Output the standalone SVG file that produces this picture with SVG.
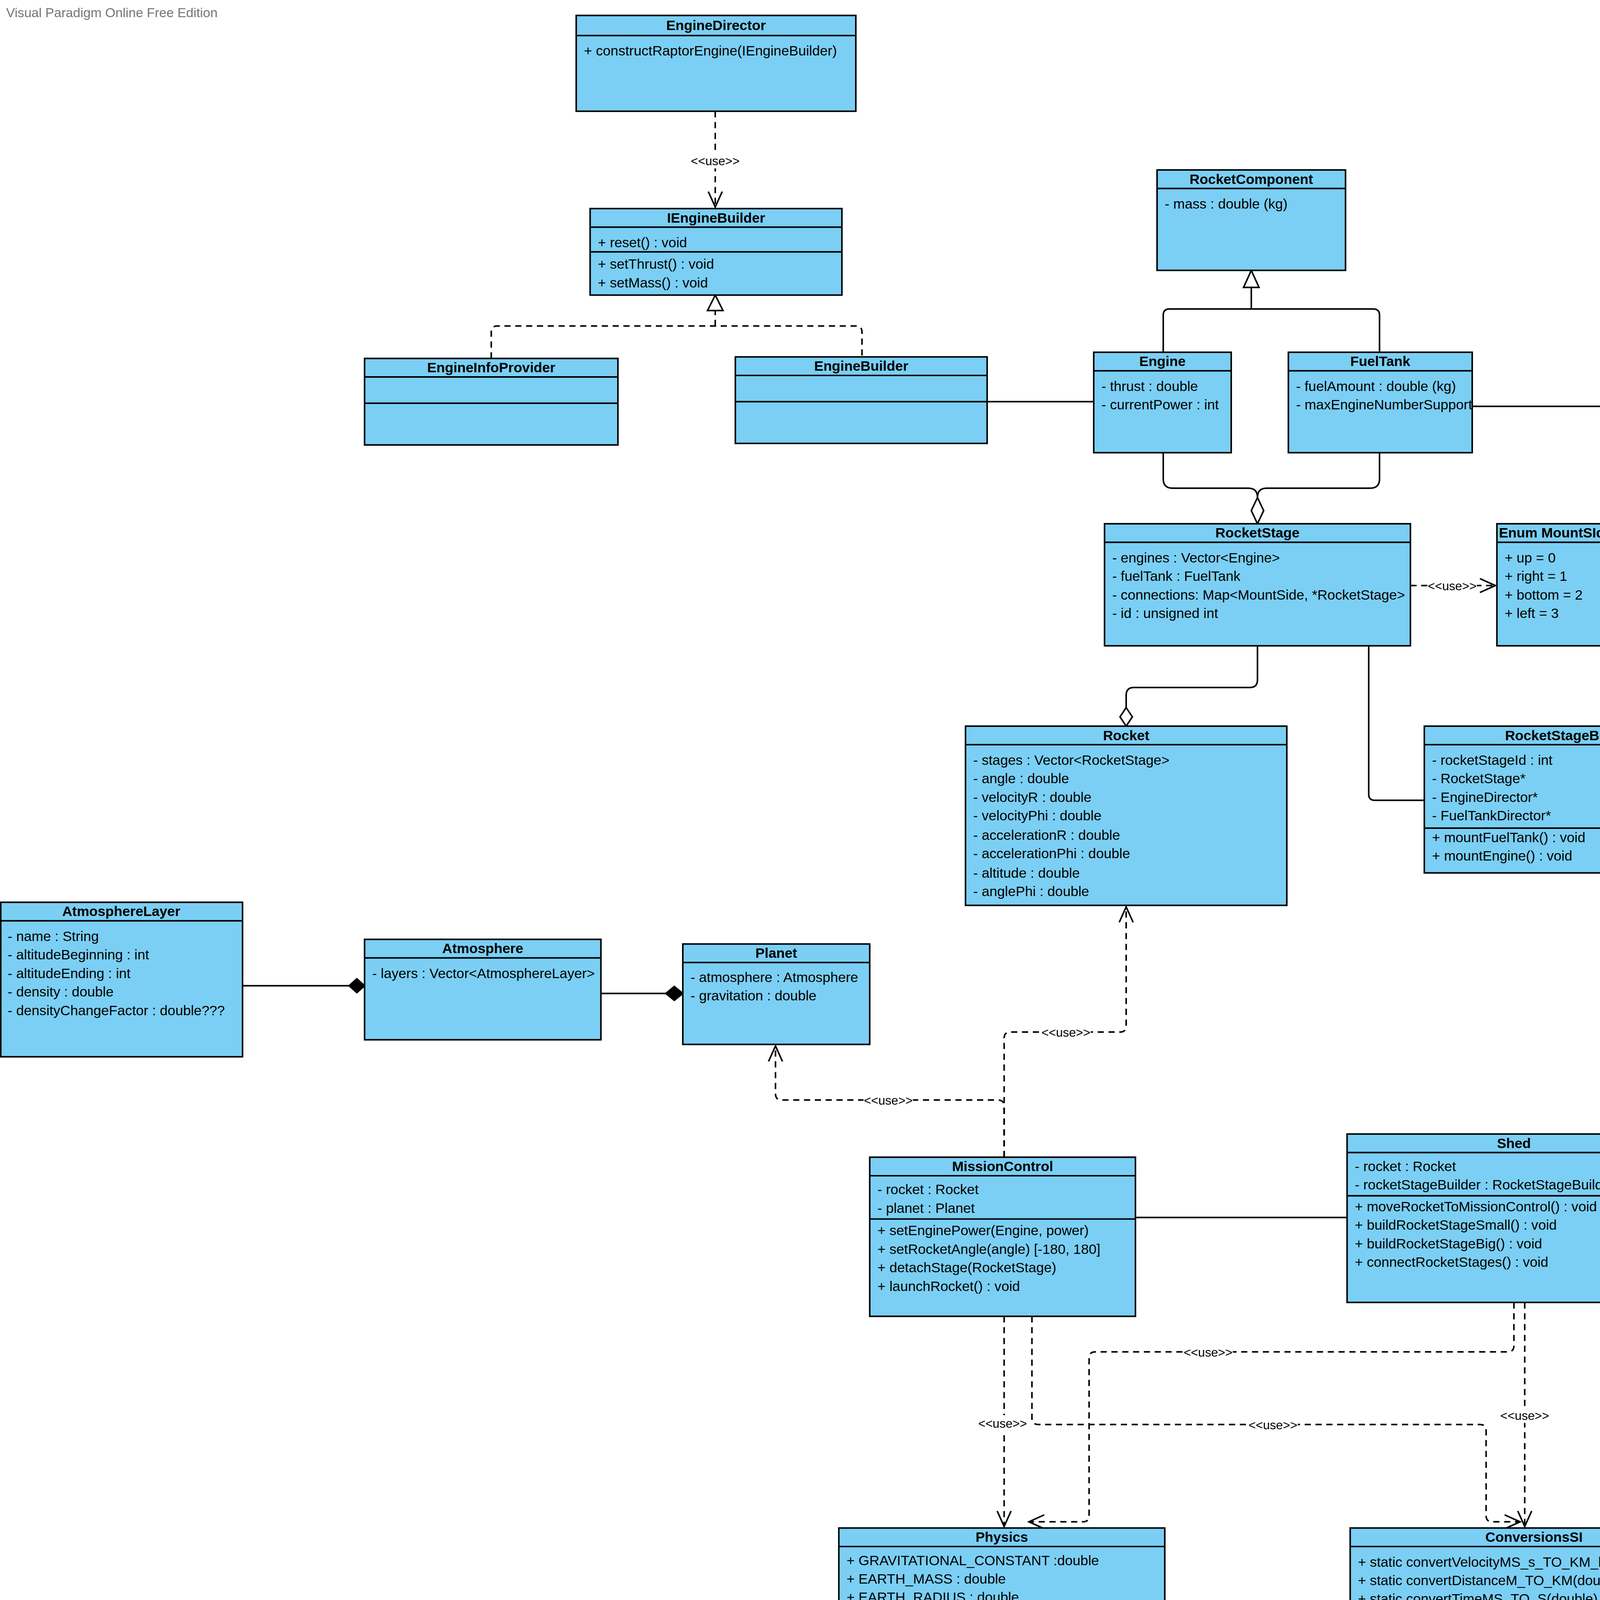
<svg xmlns="http://www.w3.org/2000/svg" width="6201" height="4323" viewBox="0 0 6201 4323">
<defs>
<style>
.box{fill:#7bcff4;stroke:#000;stroke-width:1}
.dv{stroke:#000;stroke-width:1}
.t{font-family:"Liberation Sans",Arial,sans-serif;font-size:9px;font-weight:bold;text-anchor:middle;fill:#000}
.i{font-family:"Liberation Sans",Arial,sans-serif;font-size:9px;fill:#000}
.lbl{font-family:"Liberation Sans",Arial,sans-serif;font-size:8px;text-anchor:middle;fill:#000}
.wm{font-family:"Liberation Sans",Arial,sans-serif;font-size:8.5px;fill:#777}
.s{fill:none;stroke:#000;stroke-width:1}
.d{fill:none;stroke:#000;stroke-width:1;stroke-dasharray:4,3}
.hol{fill:#fff;stroke:#000;stroke-width:1}
.fil{fill:#000;stroke:#000;stroke-width:1}
</style>
<marker id="open" markerUnits="userSpaceOnUse" viewBox="-11 -6 12 12" refX="0" refY="0" markerWidth="12" markerHeight="12" orient="auto">
<path d="M-10,-4.5 L0,0 L-10,4.5" fill="none" stroke="#000" stroke-width="1"/>
</marker>
</defs>
<rect width="6201" height="4323" fill="#fff"/>
<svg x="0" y="0" width="6201" height="4323" viewBox="0 0 1568 1093" preserveAspectRatio="none">
<text class="wm" x="4" y="11">Visual Paradigm Online Free Edition</text>
<text class="wm" x="1564" y="1089" text-anchor="end">Visual Paradigm Online Free Edition</text>

<g id="connectors">
<path class="d" d="M463,72 V134" marker-end="url(#open)"/>
<rect x="446" y="99" width="34" height="10" fill="#fff"/><text class="lbl" x="463" y="107">&lt;&lt;use&gt;&gt;</text>
<path class="d" d="M318,232 V215 Q318,211 322,211 H554 Q558,211 558,215 V231 M463,211 V201"/>
<polygon class="hol" points="463,191 458,201 468,201"/>
<path class="s" d="M753,228 V204 Q753,200 757,200 H889 Q893,200 893,204 V228 M810,200 V186"/>
<polygon class="hol" points="810,175 805,186 815,186"/>
<path class="s" d="M639,260 H708"/>
<path class="s" d="M953,263 H1095"/>
<path class="s" d="M753,293 V310 Q753,316 759,316 H808 Q814,316 814,322 M893,293 V310 Q893,316 887,316 H820 Q814,316 814,322"/>
<polygon class="hol" points="814,322 810,330.5 814,339 818,330.5"/>
<path class="s" d="M814,418 V440 Q814,445 809,445 H734 Q729,445 729,450 V458"/>
<polygon class="hol" points="729,458 725,464 729,470 733,464"/>
<path class="s" d="M886,412 V514 Q886,518 890,518 H922"/>
<path class="d" d="M913,379 H968" marker-end="url(#open)"/>
<rect x="924" y="374" width="32" height="10" fill="#fff"/><text class="lbl" x="940" y="382">&lt;&lt;use&gt;&gt;</text>
<path class="d" d="M1294,62 V134" marker-end="url(#open)"/>
<rect x="1277" y="94" width="34" height="10" fill="#fff"/><text class="lbl" x="1294" y="102">&lt;&lt;use&gt;&gt;</text>
<path class="d" d="M1196,232 V221 Q1196,217 1200,217 H1462 Q1466,217 1466,221 V232 M1294,217 V213"/>
<polygon class="hol" points="1294,202 1289,213 1299,213"/>
<path class="s" d="M157,638 H226"/>
<polygon class="fil" points="226,638 231,633.5 236,638 231,642.5"/>
<path class="s" d="M389,643 H431"/>
<polygon class="fil" points="431,643 436.5,638.5 442,643 436.5,647.5"/>
<path class="d" d="M650,749 V716 Q650,712 646,712 H506 Q502,712 502,708 V677" marker-end="url(#open)"/>
<rect x="559" y="707" width="32" height="10" fill="#fff"/><text class="lbl" x="575" y="715">&lt;&lt;use&gt;&gt;</text>
<path class="d" d="M650,749 V672 Q650,668 654,668 H725 Q729,668 729,664 V587" marker-end="url(#open)"/>
<rect x="674" y="663" width="32" height="10" fill="#fff"/><text class="lbl" x="690" y="671">&lt;&lt;use&gt;&gt;</text>
<path class="s" d="M735,788 H872"/>
<path class="d" d="M650,852 V988" marker-end="url(#open)"/>
<rect x="632" y="916" width="34" height="10" fill="#fff"/><text class="lbl" x="649" y="924">&lt;&lt;use&gt;&gt;</text>
<path class="d" d="M668,852 V918 Q668,922 672,922 H958 Q962,922 962,926 V981 Q962,985 966,985 H984" marker-end="url(#open)"/>
<rect x="808" y="917" width="32" height="10" fill="#fff"/><text class="lbl" x="824" y="925">&lt;&lt;use&gt;&gt;</text>
<path class="d" d="M980,843 V871 Q980,875 976,875 H709 Q705,875 705,879 V981 Q705,985 701,985 H666" marker-end="url(#open)"/>
<rect x="766" y="870" width="32" height="10" fill="#fff"/><text class="lbl" x="782" y="878">&lt;&lt;use&gt;&gt;</text>
<path class="d" d="M987,843 V988" marker-end="url(#open)"/>
<rect x="970" y="911" width="34" height="10" fill="#fff"/><text class="lbl" x="987" y="919">&lt;&lt;use&gt;&gt;</text>
<path class="d" d="M1443,635 V720" marker-end="url(#open)"/>
<rect x="1426" y="674" width="34" height="10" fill="#fff"/><text class="lbl" x="1443" y="682">&lt;&lt;use&gt;&gt;</text>
<path class="d" d="M1440,813 V906" marker-end="url(#open)"/>
<rect x="1423" y="855" width="34" height="10" fill="#fff"/><text class="lbl" x="1440" y="863">&lt;&lt;use&gt;&gt;</text>
</g>

<g id="EngineDirector">
<rect class="box" x="373" y="10" width="181" height="62"/><line class="dv" x1="373" y1="23" x2="554" y2="23"/>
<text class="t" x="463.5" y="19.5">EngineDirector</text>
<text class="i" x="378" y="36">+ constructRaptorEngine(IEngineBuilder)</text>
</g>
<g id="IEngineBuilder">
<rect class="box" x="382" y="135" width="163" height="56"/><line class="dv" x1="382" y1="147" x2="545" y2="147"/><line class="dv" x1="382" y1="163" x2="545" y2="163"/>
<text class="t" x="463.5" y="144">IEngineBuilder</text>
<text class="i" x="387" y="160">+ reset() : void</text>
<text class="i" x="387" y="174">+ setThrust() : void</text>
<text class="i" x="387" y="186">+ setMass() : void</text>
</g>
<g id="EngineInfoProvider">
<rect class="box" x="236" y="232" width="164" height="56"/><line class="dv" x1="236" y1="244" x2="400" y2="244"/><line class="dv" x1="236" y1="261" x2="400" y2="261"/>
<text class="t" x="318" y="241">EngineInfoProvider</text>
</g>
<g id="EngineBuilder">
<rect class="box" x="476" y="231" width="163" height="56"/><line class="dv" x1="476" y1="243" x2="639" y2="243"/><line class="dv" x1="476" y1="260" x2="639" y2="260"/>
<text class="t" x="557.5" y="240">EngineBuilder</text>
</g>
<g id="RocketComponent">
<rect class="box" x="749" y="110" width="122" height="65"/><line class="dv" x1="749" y1="122" x2="871" y2="122"/>
<text class="t" x="810" y="119">RocketComponent</text>
<text class="i" x="754" y="135">- mass : double (kg)</text>
</g>
<g id="Engine">
<rect class="box" x="708" y="228" width="89" height="65"/><line class="dv" x1="708" y1="240" x2="797" y2="240"/>
<text class="t" x="752.5" y="237">Engine</text>
<text class="i" x="713" y="253">- thrust : double</text>
<text class="i" x="713" y="265">- currentPower : int</text>
</g>
<g id="FuelTank">
<rect class="box" x="834" y="228" width="119" height="65"/><line class="dv" x1="834" y1="240" x2="953" y2="240"/>
<text class="t" x="893.5" y="237">FuelTank</text>
<text class="i" x="839" y="253">- fuelAmount : double (kg)</text>
<text class="i" x="839" y="265">- maxEngineNumberSupport</text>
</g>
<g id="FuelTankDirector">
<rect class="box" x="1203" y="-1" width="182" height="63"/><line class="dv" x1="1203" y1="12" x2="1385" y2="12"/>
<text class="t" x="1294" y="9">FuelTankDirector</text>
<text class="i" x="1208" y="26">+ constructSmallFuelTank(FuelTankBuilder)</text>
</g>
<g id="IFuelTankBuilder">
<rect class="box" x="1193" y="135" width="201" height="67"/><line class="dv" x1="1193" y1="147" x2="1394" y2="147"/>
<text class="t" x="1293.5" y="144">IFuelTankBuilder</text>
<text class="i" x="1198" y="161">+ setFuelAmount() : void</text>
<text class="i" x="1198" y="173">+ setMaxEngineNumberSupport() : void</text>
<text class="i" x="1198" y="185">+ reset() : void</text>
<text class="i" x="1198" y="197">+ setMass() : void</text>
</g>
<g id="FuelTankBuilder">
<rect class="box" x="1095" y="232" width="201" height="67"/><line class="dv" x1="1095" y1="244" x2="1296" y2="244"/>
<text class="t" x="1195.5" y="241">FuelTankBuilder</text>
</g>
<g id="FuelTankInfoProvider">
<rect class="box" x="1366" y="232" width="201" height="67"/><line class="dv" x1="1366" y1="244" x2="1567" y2="244"/>
<text class="t" x="1466.5" y="241">FuelTankInfoProvider</text>
</g>
<g id="RocketStage">
<rect class="box" x="715" y="339" width="198" height="79"/><line class="dv" x1="715" y1="351" x2="913" y2="351"/>
<text class="t" x="814" y="348">RocketStage</text>
<text class="i" x="720" y="364">- engines : Vector&lt;Engine&gt;</text>
<text class="i" x="720" y="376">- fuelTank : FuelTank</text>
<text class="i" x="720" y="388">- connections: Map&lt;MountSide, *RocketStage&gt;</text>
<text class="i" x="720" y="400">- id : unsigned int</text>
</g>
<g id="EnumMountSide">
<rect class="box" x="969" y="339" width="76" height="79"/><line class="dv" x1="969" y1="351" x2="1045" y2="351"/>
<text class="t" x="1007" y="348">Enum MountSIde</text>
<text class="i" x="974" y="364">+ up = 0</text>
<text class="i" x="974" y="376">+ right = 1</text>
<text class="i" x="974" y="388">+ bottom = 2</text>
<text class="i" x="974" y="400">+ left = 3</text>
</g>
<g id="Rocket">
<rect class="box" x="625" y="470" width="208" height="116"/><line class="dv" x1="625" y1="482" x2="833" y2="482"/>
<text class="t" x="729" y="479">Rocket</text>
<text class="i" x="630" y="495">- stages : Vector&lt;RocketStage&gt;</text>
<text class="i" x="630" y="507">- angle : double</text>
<text class="i" x="630" y="519">- velocityR : double</text>
<text class="i" x="630" y="531">- velocityPhi : double</text>
<text class="i" x="630" y="543.5">- accelerationR : double</text>
<text class="i" x="630" y="555.5">- accelerationPhi : double</text>
<text class="i" x="630" y="568">- altitude : double</text>
<text class="i" x="630" y="580">- anglePhi : double</text>
</g>
<g id="RocketStageBuilder">
<rect class="box" x="922" y="470" width="190" height="95"/><line class="dv" x1="922" y1="482" x2="1112" y2="482"/><line class="dv" x1="922" y1="536" x2="1112" y2="536"/>
<text class="t" x="1017" y="479">RocketStageBuilder</text>
<text class="i" x="927" y="495">- rocketStageId : int</text>
<text class="i" x="927" y="507">- RocketStage*</text>
<text class="i" x="927" y="519">- EngineDirector*</text>
<text class="i" x="927" y="531">- FuelTankDirector*</text>
<text class="i" x="927" y="545">+ mountFuelTank() : void</text>
<text class="i" x="927" y="557">+ mountEngine() : void</text>
</g>
<g id="ConsoleWriter">
<rect class="box" x="1347" y="495" width="201" height="140"/><line class="dv" x1="1347" y1="507" x2="1548" y2="507"/>
<text class="t" x="1447.5" y="504">ConsoleWriter</text>
<text class="i" x="1352" y="521">+ static homeScreen() : void</text>
<text class="i" x="1352" y="533">+ static buildingOptionsScreen() : void</text>
<text class="i" x="1352" y="545">+ static possibleRocketsScreen() : void</text>
<text class="i" x="1352" y="557.5">+ static beginnerRocketBuilderScreen(): void</text>
<text class="i" x="1352" y="569.5">+ static advacedRocketBuilderScreen() : void</text>
<text class="i" x="1352" y="581.5">+ static expertRocketBuilderScreen() : void</text>
<text class="i" x="1352" y="594">+ static rocketStageConnectionsScreen():void</text>
<text class="i" x="1352" y="606">+ static rocketBeforeFlightScreen() : void</text>
<text class="i" x="1352" y="618">+ static rocketFlight():void</text>
<text class="i" x="1352" y="630">+ static endingInfo():void</text>
</g>
<g id="PlotMaker">
<rect class="box" x="1347" y="721" width="184" height="92"/><line class="dv" x1="1347" y1="733" x2="1531" y2="733"/>
<text class="t" x="1439" y="730">PlotMaker</text>
<text class="i" x="1352" y="747">+ static plot(vector, vector, vector, vector)</text>
<text class="i" x="1352" y="759">+ static plotRocketTrajectoryToFiles()</text>
</g>
<g id="DataReader">
<rect class="box" x="1347" y="907" width="186" height="92"/><line class="dv" x1="1347" y1="919" x2="1533" y2="919"/>
<text class="t" x="1440" y="916">DataReader</text>
<text class="i" x="1352" y="932">+ static split(string, char)</text>
<text class="i" x="1352" y="944">+ static getValuesByColumn(vector, int)</text>
<text class="i" x="1352" y="956">+ static readFile(string)</text>
</g>
<g id="AtmosphereLayer">
<rect class="box" x="0.5" y="584" width="156.5" height="100"/><line class="dv" x1="0" y1="596" x2="157" y2="596"/>
<text class="t" x="78.5" y="593">AtmosphereLayer</text>
<text class="i" x="5" y="609">- name : String</text>
<text class="i" x="5" y="621">- altitudeBeginning : int</text>
<text class="i" x="5" y="633">- altitudeEnding : int</text>
<text class="i" x="5" y="645">- density : double</text>
<text class="i" x="5" y="657">- densityChangeFactor : double???</text>
</g>
<g id="Atmosphere">
<rect class="box" x="236" y="608" width="153" height="65"/><line class="dv" x1="236" y1="620" x2="389" y2="620"/>
<text class="t" x="312.5" y="617">Atmosphere</text>
<text class="i" x="241" y="633">- layers : Vector&lt;AtmosphereLayer&gt;</text>
</g>
<g id="Planet">
<rect class="box" x="442" y="611" width="121" height="65"/><line class="dv" x1="442" y1="623" x2="563" y2="623"/>
<text class="t" x="502.5" y="620">Planet</text>
<text class="i" x="447" y="635.5">- atmosphere : Atmosphere</text>
<text class="i" x="447" y="647.5">- gravitation : double</text>
</g>
<g id="MissionControl">
<rect class="box" x="563" y="749" width="172" height="103"/><line class="dv" x1="563" y1="761" x2="735" y2="761"/><line class="dv" x1="563" y1="789" x2="735" y2="789"/>
<text class="t" x="649" y="758">MissionControl</text>
<text class="i" x="568" y="773">- rocket : Rocket</text>
<text class="i" x="568" y="785">- planet : Planet</text>
<text class="i" x="568" y="799.5">+ setEnginePower(Engine, power)</text>
<text class="i" x="568" y="811.5">+ setRocketAngle(angle) [-180, 180]</text>
<text class="i" x="568" y="823.5">+ detachStage(RocketStage)</text>
<text class="i" x="568" y="835.5">+ launchRocket() : void</text>
</g>
<g id="Shed">
<rect class="box" x="872" y="734" width="216" height="109"/><line class="dv" x1="872" y1="746" x2="1088" y2="746"/><line class="dv" x1="872" y1="774" x2="1088" y2="774"/>
<text class="t" x="980" y="743">Shed</text>
<text class="i" x="877" y="758">- rocket : Rocket</text>
<text class="i" x="877" y="770">- rocketStageBuilder : RocketStageBuilder</text>
<text class="i" x="877" y="784">+ moveRocketToMissionControl() : void</text>
<text class="i" x="877" y="796">+ buildRocketStageSmall() : void</text>
<text class="i" x="877" y="808">+ buildRocketStageBig() : void</text>
<text class="i" x="877" y="820">+ connectRocketStages() : void</text>
</g>
<g id="Physics">
<rect class="box" x="543" y="989" width="211" height="103"/><line class="dv" x1="543" y1="1001" x2="754" y2="1001"/><line class="dv" x1="543" y1="1053" x2="754" y2="1053"/>
<text class="t" x="648.5" y="998">Physics</text>
<text class="i" x="548" y="1013">+ GRAVITATIONAL_CONSTANT :double</text>
<text class="i" x="548" y="1025">+ EARTH_MASS : double</text>
<text class="i" x="548" y="1037">+ EARTH_RADIUS : double</text>
<text class="i" x="548" y="1049">+ PI : double</text>
<text class="i" x="548" y="1063">+ static calcAccelerationByForce(double, double)</text>
<text class="i" x="548" y="1075">+ static calcCentrifugalForce()</text>
<text class="i" x="548" y="1087">...</text>
</g>
<g id="ConversionsSI">
<rect class="box" x="874" y="989" width="238" height="95"/><line class="dv" x1="874" y1="1001" x2="1112" y2="1001"/>
<text class="t" x="993" y="998">ConversionsSI</text>
<text class="i" x="879" y="1014">+ static convertVelocityMS_s_TO_KM_h(double) : double</text>
<text class="i" x="879" y="1026">+ static convertDistanceM_TO_KM(double):double</text>
<text class="i" x="879" y="1038">+ static convertTimeMS_TO_S(double) : double</text>
</g>
</svg>
</svg>
